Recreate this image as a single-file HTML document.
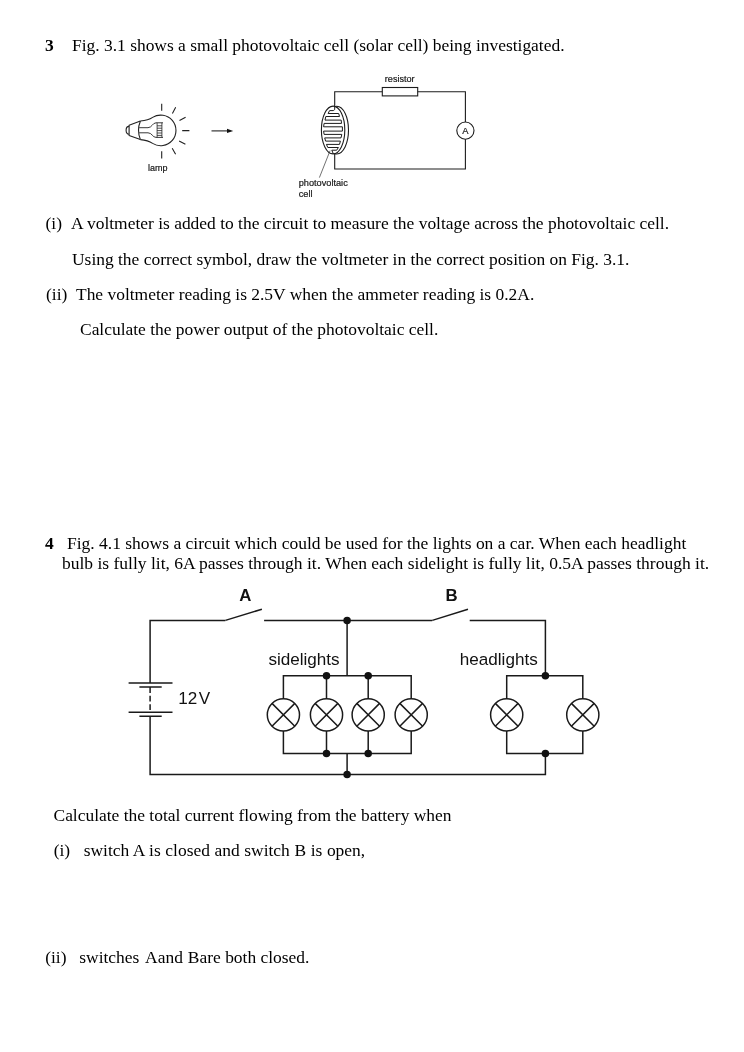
<!DOCTYPE html>
<html>
<head>
<meta charset="utf-8">
<title>Worksheet</title>
<style>
html,body{margin:0;padding:0;background:#fff;}
body{width:744px;height:1052px;position:relative;overflow:hidden;font-family:"Liberation Serif",serif;color:#000;}
#pg{position:absolute;left:0;top:0;width:744px;height:1052px;will-change:transform;}
.t{position:absolute;white-space:pre;font-size:17.44px;line-height:20px;height:20px;}
.b{font-weight:bold;}
svg{position:absolute;left:0;top:0;}
svg text{font-family:"Liberation Sans",sans-serif;fill:#111;}
</style>
</head>
<body>
<div id="pg">
<div class="t b" style="left:45px;top:35px;">3</div>
<div class="t" style="left:72px;top:35px;">Fig. 3.1 shows a small photovoltaic cell (solar cell) being investigated.</div>
<div class="t" style="left:45.5px;top:212.6px;">(i)</div>
<div class="t" style="left:71px;top:212.6px;">A voltmeter is added to the circuit to measure the voltage across the photovoltaic cell.</div>
<div class="t" style="left:72px;top:249px;">Using the correct symbol, draw the voltmeter in the correct position on Fig. 3.1.</div>
<div class="t" style="left:46px;top:284px;">(ii)</div>
<div class="t" style="left:76px;top:284px;">The voltmeter reading is 2.5V when the ammeter reading is 0.2A.</div>
<div class="t" style="left:80px;top:319px;">Calculate the power output of the photovoltaic cell.</div>
<div class="t b" style="left:45px;top:533px;">4</div>
<div class="t" style="left:67px;top:533px;font-size:17.49px;">Fig. 4.1 shows a circuit which could be used for the lights on a car. When each headlight</div>
<div class="t" style="left:62px;top:553px;font-size:17.515px;">bulb is fully lit, 6A passes through it. When each sidelight is fully lit, 0.5A passes through it.</div>
<div class="t" style="left:53.5px;top:804.7px;">Calculate the total current flowing from the battery when</div>
<div class="t" style="left:53.7px;top:840.2px;">(i)</div>
<div class="t" style="left:83.7px;top:840.2px;word-spacing:0.25px;">switch A is closed and switch B is open,</div>
<div class="t" style="left:45.2px;top:947px;">(ii)</div>
<div class="t" style="left:79.3px;top:947px;">switches <span style="margin-left:1.4px">A</span>and <span style="margin-left:0.6px">B</span>are both closed.</div>
<svg width="744" height="1052" viewBox="0 0 744 1052">
<g stroke="#1c1c1c" stroke-width="1.1" fill="none" stroke-linecap="square">
<path d="M334.7 106V91.7H382M417.5 91.7H465.4V121.8M465.4 139V169H334.7V153.8"/>
<rect x="382.3" y="87.5" width="35.4" height="8.4" fill="#fff"/>
<circle cx="465.4" cy="130.6" r="8.6" fill="#fff"/>
</g>
<g stroke="#1c1c1c" stroke-width="1.1" fill="none" stroke-linejoin="round">
<defs><clipPath id="cb"><path d="M334.5 100H360V160H334.5Z"/></clipPath></defs>
<ellipse cx="336.8" cy="130.1" rx="11.7" ry="23.9" clip-path="url(#cb)"/>
<ellipse cx="333.1" cy="130" rx="11.7" ry="23.9" fill="#fff"/>
<path d="M334.7 106V109.6L333.3 110.6H329.6L328.1 113.5H338.7L339.5 116.5H325.8L325 120.1H341.2L341.5 123.4H324.1L323.6 126.8H342.4L342.4 131.1H323.6L324.1 134.4H341.8L341 137.9H324.7L325.6 141.1H340.4L339.5 144.4H326.4L327.8 147.5H338.4L336.7 150.2H331.8L333.4 154" stroke-width="1"/>
</g>
<path d="M330.1 150.6L319.4 177.6" stroke="#333" stroke-width="0.7" fill="none"/>
<g stroke="#222" stroke-width="1.1" fill="none" stroke-linejoin="round">
<path d="M140.4 121C146 120.6 149.5 119.6 152.6 117.4A15.3 15.3 0 1 1 152.6 143.4C149.5 141.2 146 140 140.4 139.6"/>
<path d="M140.4 121L129.1 125.3V135.5L140.4 139.6"/>
<path d="M140.4 121Q136.6 130.3 140.4 139.6"/>
<path d="M129.1 126.4A3 3.9 0 0 0 129.1 134.2"/>
<path d="M139.2 127.7H148C152 127.7 152.5 122.8 156 122.8H163M139.2 132.8H148C152 132.8 152.5 137.4 156 137.4H163" stroke-width="0.9"/>
<path d="M157.1 122.8V137.4M161.9 122.8V137.4M157.1 125.8H161.9M157.1 128.2H161.9M157.1 130.6H161.9M157.1 133H161.9M157.1 135.4H161.9" stroke-width="0.8"/>
</g>
<g stroke="#222" stroke-width="1.1" fill="none">
<path d="M161.7 103.8V110.8M172.4 113.4L175.7 107.3M179.5 120.4L185.6 117.2M182.2 130.6H189.4M179.1 140.9L185.4 144.3M172.2 148.2L175.6 154.3M161.7 151.3V158.6"/>
<path d="M211.5 130.9H228"/>
</g>
<path d="M227 128.8L233.2 130.9L227 133Z" fill="#111"/>
<g stroke="#222" stroke-width="0.2">
<text x="148" y="171" font-size="9">lamp</text>
<text x="384.8" y="81.5" font-size="9.1">resistor</text>
<text x="298.7" y="185.9" font-size="9.2">photovoltaic</text>
<text x="298.7" y="197.1" font-size="9.2">cell</text>
<text x="465.4" y="133.6" font-size="9.3" text-anchor="middle">A</text>
</g>
<g stroke="#1a1a1a" stroke-width="1.5" fill="none">
<path d="M225.4 620.4H150.1V682.9M150.1 716.3V774.6H545.4V753.4M264.1 620.4H432.3M469.7 620.4H545.4V675.8M347.1 620.4V675.8M347.1 753.4V774.6"/>
<path d="M225.4 620.4L261.9 609.2M432.3 620.4L468 609.2"/>
<path d="M128.6 682.9H172.5M139.4 687H161.7M128.6 712.3H172.5M139.4 716.3H161.7"/>
<path d="M150.1 687.1V712" stroke-dasharray="5.8 2.8"/>
<path d="M283.4 698.5V675.8H411.2V698.5M283.4 731V753.4H411.2V731M326.5 675.8V698.5M368.2 675.8V698.5M326.5 753.4V731M368.2 753.4V731"/>
<path d="M506.7 698.5V675.8H582.8V698.5M506.7 731V753.4H582.8V731"/>
<circle cx="283.4" cy="714.8" r="16.1"/>
<path d="M272.0 703.4L294.8 726.2M272.0 726.2L294.8 703.4"/>
<circle cx="326.5" cy="714.8" r="16.1"/>
<path d="M315.1 703.4L337.9 726.2M315.1 726.2L337.9 703.4"/>
<circle cx="368.2" cy="714.8" r="16.1"/>
<path d="M356.8 703.4L379.6 726.2M356.8 726.2L379.6 703.4"/>
<circle cx="411.2" cy="714.8" r="16.1"/>
<path d="M399.8 703.4L422.6 726.2M399.8 726.2L422.6 703.4"/>
<circle cx="506.7" cy="714.8" r="16.1"/>
<path d="M495.3 703.4L518.1 726.2M495.3 726.2L518.1 703.4"/>
<circle cx="582.8" cy="714.8" r="16.1"/>
<path d="M571.4 703.4L594.2 726.2M571.4 726.2L594.2 703.4"/>
</g>
<g fill="#111">
<circle cx="347.1" cy="620.4" r="3.75"/>
<circle cx="347.1" cy="774.6" r="3.75"/>
<circle cx="326.5" cy="675.8" r="3.75"/>
<circle cx="368.2" cy="675.8" r="3.75"/>
<circle cx="326.5" cy="753.4" r="3.75"/>
<circle cx="368.2" cy="753.4" r="3.75"/>
<circle cx="545.4" cy="675.8" r="3.75"/>
<circle cx="545.4" cy="753.4" r="3.75"/>
</g>
<text x="239.3" y="601.3" font-size="16.8" font-weight="bold">A</text>
<text x="445.6" y="601" font-size="16.8" font-weight="bold">B</text>
<text x="268.4" y="664.8" font-size="17.1" fill="#222">sidelights</text>
<text x="459.8" y="664.8" font-size="17.1" fill="#222">headlights</text>
<text x="178.3" y="704.3" font-size="17.1" fill="#222">12<tspan dx="1.5">V</tspan></text>
</svg>
</div>
</body>
</html>
